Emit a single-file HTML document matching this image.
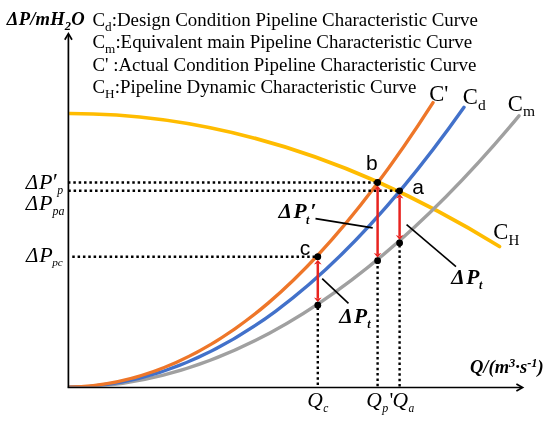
<!DOCTYPE html>
<html><head><meta charset="utf-8"><style>
html,body{margin:0;padding:0;background:#fff;width:550px;height:421px;overflow:hidden}
svg{display:block}
</style></head><body>
<svg width="550" height="421" viewBox="0 0 550 421">
<defs><clipPath id="cp"><rect x="69.2" y="0" width="481" height="386.6"/></clipPath></defs>
<g fill="none" stroke-linecap="round" clip-path="url(#cp)">
<path d="M70.0,113.5 Q284.0,113.5 499.5,246.5" stroke="#FFBC00" stroke-width="3.7"/>
<path d="M68.3,387.3 Q293.6,387.3 519.0,115.9" stroke="#A0A0A0" stroke-width="3.4"/>
<path d="M68.3,387.3 C214.5,386.4 343.7,278.1 464,107.3" stroke="#4271CA" stroke-width="3.4"/>
<path d="M68.3,387.3 C216.5,384.3 332.3,260 433,102.6" stroke="#EE7629" stroke-width="3.4"/>
</g>
<g fill="none" stroke="#000" stroke-width="2.4">
<line x1="67.95" y1="182.5" x2="377.6" y2="182.5" stroke-dasharray="2.5 2.86"/>
<line x1="68.25" y1="190.8" x2="399.6" y2="190.8" stroke-dasharray="2.5 2.86"/>
<line x1="72.25" y1="256.7" x2="317.8" y2="256.7" stroke-dasharray="2.5 2.84"/>
<line x1="317.8" y1="307.6" x2="317.8" y2="387" stroke-dasharray="2.5 2.85"/>
<line x1="377.6" y1="260.7" x2="377.6" y2="387" stroke-dasharray="2.5 2.85"/>
<line x1="399.6" y1="244.9" x2="399.6" y2="387" stroke-dasharray="2.5 2.85"/>
</g>
<line x1="317.8" y1="263.2" x2="317.8" y2="298.7" stroke="#E8231F" stroke-width="2.5"/><path d="M317.8,259.7 L314.0,264.5 L317.8,263.2 L321.6,264.5 Z" fill="#E8231F"/><path d="M317.8,302.2 L314.0,297.4 L317.8,298.7 L321.6,297.4 Z" fill="#E8231F"/>
<line x1="377.6" y1="189.0" x2="377.6" y2="254.2" stroke="#E8231F" stroke-width="2.5"/><path d="M377.6,185.5 L373.8,190.3 L377.6,189.0 L381.40000000000003,190.3 Z" fill="#E8231F"/><path d="M377.6,257.7 L373.8,252.89999999999998 L377.6,254.2 L381.40000000000003,252.89999999999998 Z" fill="#E8231F"/>
<line x1="399.6" y1="197.3" x2="399.6" y2="236.4" stroke="#E8231F" stroke-width="2.5"/><path d="M399.6,193.8 L395.8,198.60000000000002 L399.6,197.3 L403.40000000000003,198.60000000000002 Z" fill="#E8231F"/><path d="M399.6,239.9 L395.8,235.1 L399.6,236.4 L403.40000000000003,235.1 Z" fill="#E8231F"/>
<g fill="#000">
<circle cx="377.6" cy="182.5" r="3.4"/>
<circle cx="399.6" cy="190.8" r="3.4"/>
<circle cx="317.8" cy="256.7" r="3.4"/>
<circle cx="377.6" cy="260.7" r="3.4"/>
<circle cx="399.6" cy="242.9" r="3.4"/>
<circle cx="317.8" cy="305.2" r="3.4"/>
</g>
<g stroke="#000" stroke-width="1.6" fill="none">
<line x1="315.5" y1="218.6" x2="372.7" y2="227.9"/>
<line x1="322.2" y1="278.7" x2="348.5" y2="303.3"/>
<line x1="406.6" y1="224.6" x2="456" y2="266.6"/>
</g>
<!-- axes -->
<g stroke="#000" stroke-width="1.7" fill="none" stroke-linecap="butt">
<line x1="68.4" y1="387.5" x2="68.4" y2="34"/>
<line x1="67.6" y1="387.5" x2="522" y2="387.5"/>
<path d="M64.8,39.8 L68.4,33.6 L72,39.8" stroke-linejoin="miter"/>
<path d="M516.4,384 L522.6,387.5 L516.4,391" stroke-linejoin="miter"/>
</g>
<g font-family="Liberation Serif, serif" fill="#000">
<text x="6.8" y="25.3" font-size="18.6" font-weight="bold" font-style="italic" letter-spacing="0.18">ΔP/mH<tspan font-size="12.5" dy="4.4">2</tspan><tspan dy="-4.4">O</tspan></text>
<g font-size="18.9">
<text x="92.5" y="25.5">C<tspan font-size="13.2" dy="5">d</tspan><tspan dy="-5">:Design Condition Pipeline Characteristic Curve</tspan></text>
<text x="92.5" y="48.1">C<tspan font-size="13.2" dy="5">m</tspan><tspan dy="-5">:Equivalent main Pipeline Characteristic Curve</tspan></text>
<text x="92.5" y="70.7">C' :Actual Condition Pipeline Characteristic Curve</text>
<text x="92.5" y="93.3">C<tspan font-size="13.2" dy="5">H</tspan><tspan dy="-5">:Pipeline Dynamic Characteristic Curve</tspan></text>
</g>
<text x="429.3" y="100.6" font-size="22.6">C'</text>
<text x="462.8" y="104.4" font-size="22.6">C<tspan font-size="15.5" dy="5.2">d</tspan></text>
<text x="507.8" y="110.8" font-size="22.6">C<tspan font-size="15.5" dy="5.1">m</tspan></text>
<text x="493.3" y="239.4" font-size="22.6">C<tspan font-size="15" dy="5.4">H</tspan></text>
<g font-style="italic" font-size="21">
<text y="188.6"><tspan x="25.8">Δ</tspan><tspan x="39" textLength="13.5" lengthAdjust="spacingAndGlyphs">P</tspan><tspan x="51.6" font-size="23">′</tspan><tspan font-size="11.8" x="57.2" dy="5.2">p</tspan></text>
<text y="209.9"><tspan x="25.8">Δ</tspan><tspan x="39" textLength="13.5" lengthAdjust="spacingAndGlyphs">P</tspan><tspan font-size="12" x="52.4" dy="4.6">pa</tspan></text>
<text y="261.7"><tspan x="26">Δ</tspan><tspan x="39.2" textLength="13.5" lengthAdjust="spacingAndGlyphs">P</tspan><tspan font-size="11.3" x="52.2" dy="4.6">pc</tspan></text>
</g>
<g font-style="italic" font-size="21.5">
<text x="307.3" y="406.8">Q<tspan font-size="11.5" dx="0.5" dy="5.6">c</tspan></text>
<text x="366.3" y="406.8">Q<tspan font-size="12" dx="0.3" dy="5.6">p</tspan><tspan font-style="normal" x="389.6" dy="-5.6">'</tspan><tspan x="392.6">Q</tspan><tspan font-size="11.5" dx="0.3" dy="5.6">a</tspan></text>
</g>
<text x="470" y="372.5" font-size="18.5" font-weight="bold" font-style="italic">Q/(m<tspan font-size="12.5" dy="-5.5">3</tspan><tspan dy="5.5">·s</tspan><tspan font-size="12.5" dy="-5.5">-1</tspan><tspan dy="5.5">)</tspan></text>
<g font-weight="bold" font-style="italic" font-size="21.5">
<text x="278.5" y="218.3">Δ<tspan dx="1.5">P</tspan><tspan font-size="12" dx="-0.6" dy="5.4">t</tspan><tspan font-size="22" dx="1.0" dy="-5.4">′</tspan></text>
<text x="339.3" y="322.5">Δ<tspan dx="1.2">P</tspan><tspan font-size="12" dx="0" dy="5.2">t</tspan></text>
<text x="451.3" y="283.5">Δ<tspan dx="1.5">P</tspan><tspan font-size="12" dx="-0.5" dy="5.8">t</tspan></text>
</g>
</g>
<g font-family="Liberation Sans, sans-serif" font-size="21" fill="#000">
<text x="366" y="170">b</text>
<text x="412.3" y="194.3">a</text>
<text x="299.8" y="254.6">c</text>
</g>
</svg>
</body></html>
